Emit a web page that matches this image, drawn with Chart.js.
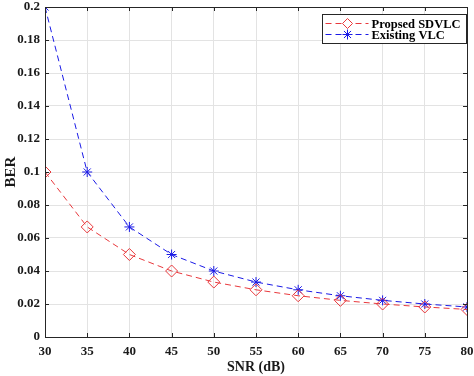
<!DOCTYPE html>
<html>
<head>
<meta charset="utf-8">
<script src="https://cdn.jsdelivr.net/npm/chart.js@4"></script>
<style>
  html, body { margin: 0; padding: 0; background: #fff; }
  #wrap { width: 474px; height: 376px; }
</style>
</head>
<body>
<div id="wrap"><canvas id="berChart" width="474" height="376"></canvas></div>
<script>
// SNR values (dB) on the x axis
const snrValues = [30, 35, 40, 45, 50, 55, 60, 65, 70, 75, 80];
// BER
const proposedBer = [0.1, 0.0667, 0.05, 0.04, 0.0333, 0.0286, 0.025, 0.0222, 0.02, 0.0182, 0.0167];
const existingBer = [0.2, 0.1, 0.0667, 0.05, 0.04, 0.0333, 0.0286, 0.025, 0.0222, 0.02, 0.0182];
const seriesNames = ['Propsed SDVLC', 'Existing VLC'];

const serif = '"Liberation Serif", "Times New Roman", serif';

function toPoints(ys) {
    return snrValues.map((x, i) => ({ x: x, y: ys[i] }));
}

// Draw frame, inner ticks and the MATLAB style legend
const matlabFrame = {
    id: 'matlabFrame',
    afterDraw(chart) {
        const ctx = chart.ctx;
        const a = chart.chartArea;
        const xs = chart.scales.x, ys = chart.scales.y;
        ctx.save();
        ctx.strokeStyle = '#262626';
        ctx.lineWidth = 1;
        ctx.beginPath();
        snrValues.forEach(v => {
            const px = Math.round(xs.getPixelForValue(v)) + 0.5;
            ctx.moveTo(px, a.bottom); ctx.lineTo(px, a.bottom - 4);
            ctx.moveTo(px, a.top); ctx.lineTo(px, a.top + 4);
        });
        for (let v = 0; v <= 0.2001; v += 0.02) {
            const py = Math.round(ys.getPixelForValue(v)) + 0.5;
            ctx.moveTo(a.left, py); ctx.lineTo(a.left + 4, py);
            ctx.moveTo(a.right, py); ctx.lineTo(a.right - 4, py);
        }
        ctx.stroke();
        ctx.strokeRect(Math.round(a.left) + 0.5, Math.round(a.top) + 0.5,
            Math.round(a.right - a.left), Math.round(a.bottom - a.top));

        // legend
        const bx = 322.5, by = 14.5, bw = 144, bh = 29;
        ctx.fillStyle = '#fff';
        ctx.fillRect(bx, by, bw, bh);
        ctx.strokeStyle = '#262626';
        ctx.strokeRect(bx, by, bw, bh);
        chart.data.datasets.forEach((ds, i) => {
            const ly = by + 9 + i * 11;
            ctx.strokeStyle = ds.borderColor;
            ctx.setLineDash([6, 4]);
            ctx.beginPath();
            ctx.moveTo(bx + 3, ly); ctx.lineTo(bx + 46, ly);
            ctx.stroke();
            ctx.setLineDash([]);
            ctx.fillStyle = '#fff';
            ctx.strokeStyle = ds.borderColor;
            Chart.helpers.drawPoint(ctx, {
                pointStyle: ds.pointStyle, radius: 5, borderWidth: 1
            }, bx + 25, ly);
            ctx.fillStyle = '#000';
            ctx.font = 'bold 12.5px ' + serif;
            ctx.textBaseline = 'middle';
            ctx.fillText(ds.label, bx + 49, ly + 1);
        });
        ctx.restore();
    }
};

new Chart(document.getElementById('berChart'), {
    type: 'line',
    data: {
        datasets: [
            {
                label: seriesNames[0],
                data: toPoints(proposedBer),
                borderColor: '#e8383c',
                backgroundColor: 'rgba(255,255,255,0)',
                borderWidth: 1,
                borderDash: [6, 4],
                pointStyle: 'rectRot',
                pointRadius: 6,
                pointBorderWidth: 1,
                tension: 0
            },
            {
                label: seriesNames[1],
                data: toPoints(existingBer),
                borderColor: '#1a1ae6',
                backgroundColor: 'rgba(255,255,255,0)',
                borderWidth: 1,
                borderDash: [6, 4],
                pointStyle: 'star',
                pointRadius: 5,
                pointBorderWidth: 1,
                tension: 0
            }
        ]
    },
    options: {
        responsive: false,
        animation: false,
        layout: { padding: { top: 5, right: 5, left: 0, bottom: 0 } },
        plugins: { legend: { display: false }, tooltip: { enabled: false } },
        scales: {
            x: {
                type: 'linear',
                min: 30,
                max: 80,
                grid: { color: '#e3e3e3', drawTicks: false },
                border: { color: '#262626' },
                ticks: {
                    stepSize: 5,
                    padding: 7,
                    color: '#1a1a1a',
                    font: { family: serif, size: 13, weight: 'bold' }
                },
                title: {
                    display: true,
                    text: 'SNR (dB)',
                    color: '#1a1a1a',
                    padding: { top: 2, bottom: 0 },
                    font: { family: serif, size: 14, weight: 'bold' }
                },
                afterFit(scale) {
                    scale.height = 39;
                    scale.paddingLeft = 0;
                    scale.paddingRight = 0;
                }
            },
            y: {
                min: 0,
                max: 0.2,
                grid: { color: '#e3e3e3', drawTicks: false },
                border: { color: '#262626' },
                ticks: {
                    stepSize: 0.02,
                    padding: 5,
                    color: '#1a1a1a',
                    font: { family: serif, size: 13, weight: 'bold' },
                    callback: v => String(parseFloat(v.toFixed(2)))
                },
                title: {
                    display: true,
                    text: 'BER',
                    color: '#1a1a1a',
                    padding: { top: 2, bottom: 0 },
                    font: { family: serif, size: 15, weight: 'bold' }
                },
                afterFit(scale) {
                    scale.width = 45;
                    scale.paddingTop = 0;
                    scale.paddingBottom = 0;
                }
            }
        }
    },
    plugins: [matlabFrame]
});
</script>
</body>
</html>
